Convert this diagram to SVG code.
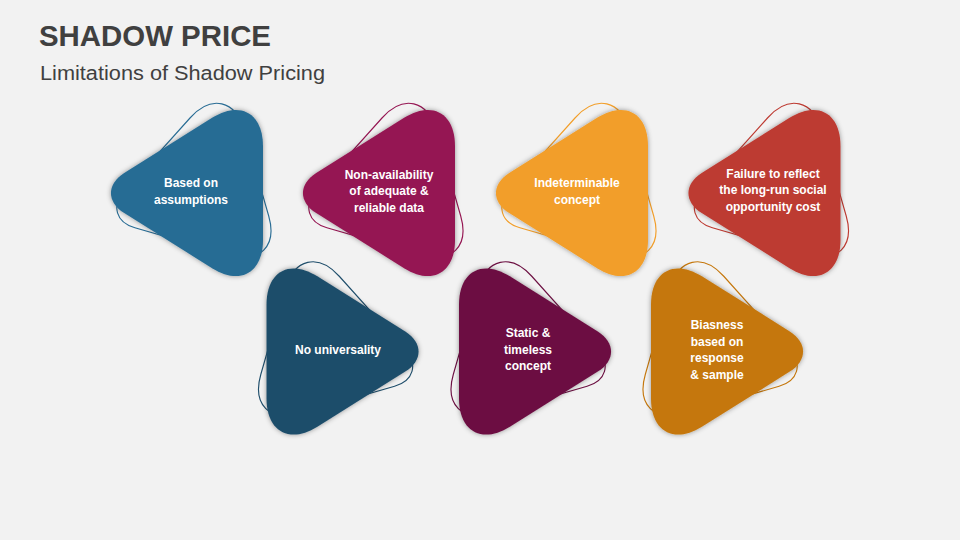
<svg xmlns="http://www.w3.org/2000/svg" xmlns:xlink="http://www.w3.org/1999/xlink" width="960" height="540" viewBox="0 0 960 540">
  <style>
    .title { font-family: "Liberation Sans", Arial, sans-serif; font-weight: bold; font-size: 30px; fill: #404040; }
    .sub { font-family: "Liberation Sans", Arial, sans-serif; font-size: 20px; fill: #404040; }
    .lbl { font-family: "Liberation Sans", Arial, sans-serif; font-weight: bold; font-size: 12px; fill: #ffffff; text-anchor: middle; }
    .ol { fill: none; stroke-width: 1.2; }
    .fill { filter: url(#sh); }
  </style>
  <defs>
    <path id="tri" d="M -62.8,-20.1 L 25.1,-75.2 C 53.1,-92.7 76,-80 76,-47 L 76,47 C 76,80 53.1,92.7 25.1,75.2 L -62.8,20.1 C -80.5,9 -80.5,-9 -62.8,-20.1 Z"/>
    <filter id="sh" x="-20%" y="-20%" width="140%" height="140%">
      <feDropShadow dx="0" dy="0" stdDeviation="2.5" flood-color="#000000" flood-opacity="0.4"/>
    </filter>
  </defs>
  <rect width="960" height="540" fill="#F2F2F2"/>
  <text class="title" x="39" y="46" textLength="232" lengthAdjust="spacingAndGlyphs">SHADOW PRICE</text>
  <text class="sub" x="40" y="80" textLength="285" lengthAdjust="spacingAndGlyphs">Limitations of Shadow Pricing</text>

  <g id="node1">
    <g transform="translate(187,193)">
      <use href="#tri" class="ol" stroke="#286C94" transform="rotate(-16) scale(0.95)"/>
      <use href="#tri" class="fill" fill="#286C94"/>
    </g>
    <text class="lbl" x="191" y="187">Based on</text>
    <text class="lbl" x="191" y="203.5">assumptions</text>
  </g>

  <g id="node2">
    <g transform="translate(379,193)">
      <use href="#tri" class="ol" stroke="#951552" transform="rotate(-16) scale(0.95)"/>
      <use href="#tri" class="fill" fill="#951552"/>
    </g>
    <text class="lbl" x="389" y="178.5">Non-availability</text>
    <text class="lbl" x="389" y="195">of adequate &amp;</text>
    <text class="lbl" x="389" y="211.5">reliable data</text>
  </g>

  <g id="node3">
    <g transform="translate(572,193)">
      <use href="#tri" class="ol" stroke="#F29E29" transform="rotate(-16) scale(0.95)"/>
      <use href="#tri" class="fill" fill="#F29E29"/>
    </g>
    <text class="lbl" x="577" y="187">Indeterminable</text>
    <text class="lbl" x="577" y="203.5">concept</text>
  </g>

  <g id="node4">
    <g transform="translate(764.5,193)">
      <use href="#tri" class="ol" stroke="#BD3A31" transform="rotate(-16) scale(0.95)"/>
      <use href="#tri" class="fill" fill="#BD3A31"/>
    </g>
    <text class="lbl" x="773" y="177.5">Failure to reflect</text>
    <text class="lbl" x="773" y="194">the long-run social</text>
    <text class="lbl" x="773" y="210.5">opportunity cost</text>
  </g>

  <g id="node5">
    <g transform="translate(342.5,351.5) scale(-1,1)">
      <use href="#tri" class="ol" stroke="#1F4E6B" transform="rotate(-16) scale(0.95)"/>
      <use href="#tri" class="fill" fill="#1F4E6B"/>
    </g>
    <text class="lbl" x="338" y="353.5">No universality</text>
  </g>

  <g id="node6">
    <g transform="translate(535,351.5) scale(-1,1)">
      <use href="#tri" class="ol" stroke="#6C1042" transform="rotate(-16) scale(0.95)"/>
      <use href="#tri" class="fill" fill="#6C1042"/>
    </g>
    <text class="lbl" x="528" y="337">Static &amp;</text>
    <text class="lbl" x="528" y="353.5">timeless</text>
    <text class="lbl" x="528" y="370">concept</text>
  </g>

  <g id="node7">
    <g transform="translate(727,351.5) scale(-1,1)">
      <use href="#tri" class="ol" stroke="#C5770C" transform="rotate(-16) scale(0.95)"/>
      <use href="#tri" class="fill" fill="#C5770C"/>
    </g>
    <text class="lbl" x="717" y="329">Biasness</text>
    <text class="lbl" x="717" y="345.5">based on</text>
    <text class="lbl" x="717" y="362">response</text>
    <text class="lbl" x="717" y="378.5">&amp; sample</text>
  </g>
</svg>
